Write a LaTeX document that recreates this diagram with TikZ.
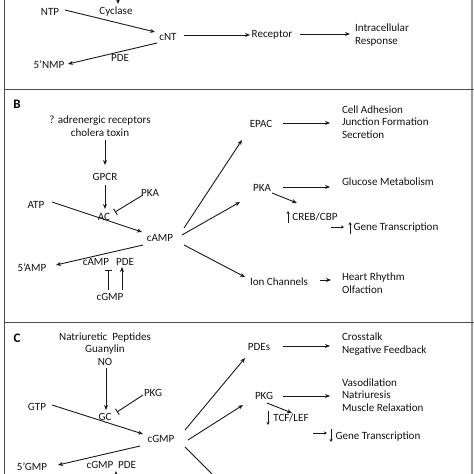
\documentclass[tikz,border=0pt]{standalone}
\usepackage{fontspec}
\setmainfont{Carlito}
\usetikzlibrary{arrows.meta}
\begin{document}
\begin{tikzpicture}[x=1bp,y=-1bp,
  lbl/.style={inner sep=0pt,outer sep=0pt,font=\fontsize{11.1}{12.6}\selectfont,text=black!92},
  lst/.style={lbl,anchor=west,align=left},
  panel/.style={font=\fontsize{13}{13}\selectfont\bfseries,inner sep=0pt,text=black},
  arr/.style={-{Stealth[length=5bp,width=4bp]},line width=0.9bp,draw=black!90},
  sarr/.style={-{Stealth[length=3bp,width=3bp]},line width=0.7bp,draw=black!90},
  inh/.style={-{Bar[width=7bp]},line width=0.9bp,draw=black!90},
  frame/.style={line width=1bp,draw=black!70},
  rframe/.style={line width=1.2bp,draw=black!40}]
\useasboundingbox (0,0) rectangle (474,474);
\fill[white] (0,0) rectangle (474,474);
% frames
\draw[frame] (4,-5) -- (4,480);
\draw[rframe] (472,-5) -- (472,480);
\draw[frame] (4,90) -- (474,90);
\draw[frame] (4,322) -- (474,322);

% ---------------- Panel A
\node[lbl] (NTP) at (50,12) {NTP};
\node[lbl] (Cyc) at (116,12) {Cyclase};
\coordinate (topA) at (118,-6);
\node[lbl] (cNT) at (168,37) {cNT};
\node[lbl] (Rec) at (272,35) {Receptor};
\node[lst] (Intra) at (355,35) {Intracellular\\Response};
\node[lbl] (PDEa) at (120,58) {PDE};
\node[lbl] (NMP) at (49,65) {5’NMP};
\draw[arr] (topA) -- ([shift={(2,-8)}]Cyc.center);
\draw[arr] ([shift={(15,-2)}]NTP.center) -- ([shift={(-13,-5)}]cNT.center);
\draw[arr] ([shift={(16,-2)}]cNT.center) -- ([shift={(-22,0)}]Rec.center);
\draw[arr] ([shift={(28,-1)}]Rec.center) -- ([shift={(-5,-1)}]Intra.west);
\draw[arr] ([shift={(-11,6)}]cNT.center) -- ([shift={(19,-1)}]NMP.center);

% ---------------- Panel B
\node[panel] (B) at (17,104) {B};
\node[lbl,align=center] (adr) at (100,126) {? adrenergic receptors\\cholera toxin};
\node[lbl] (GPCR) at (105,177) {GPCR};
\node[lbl] (AC) at (104,217) {AC};
\node[lbl] (PKAi) at (150,193) {PKA};
\node[lbl] (ATP) at (36,205) {ATP};
\node[lbl] (cAMP) at (160,238) {cAMP};
\node[lbl] (AMP) at (32,268) {5’AMP};
\node[lbl] (cAMPw) at (96,262) {cAMP};
\node[lbl] (PDEb) at (125,262) {PDE};
\node[lbl] (cGMPb) at (110,297) {cGMP};
\node[lbl] (EPAC) at (261,124) {EPAC};
\node[lst] (Cell) at (342,122) {Cell Adhesion\\Junction Formation\\Secretion};
\node[lbl] (PKA) at (262,188) {PKA};
\node[lst] (Glu) at (342,182) {Glucose Metabolism};
\node[lbl] (CREB) at (315,217) {CREB/CBP};
\node[lbl] (GeneB) at (396,228) {Gene Transcription};
\node[lbl] (Ion) at (279,282) {Ion Channels};
\node[lst] (Heart) at (342,283) {Heart Rhythm\\Olfaction};

\draw[arr] ([shift={(5,14)}]adr.center) -- ([shift={(0,-12)}]GPCR.center);
\draw[arr] ([shift={(0,8)}]GPCR.center) -- ([shift={(1,-8)}]AC.center);
\draw[inh] ([shift={(-7,2)}]PKAi.center) -- ([shift={(11,-5)}]AC.center);
\draw[arr] ([shift={(16,-3)}]ATP.center) -- ([shift={(-18,-6)}]cAMP.center);
\draw[arr] ([shift={(-17,7)}]cAMP.center) -- ([shift={(24,-3)}]AMP.center);
\draw[inh] ([shift={(-2,-7)}]cGMPb.center) -- ([shift={(12,8)}]cAMPw.center);
\draw[arr] ([shift={(12,-7)}]cGMPb.center) -- ([shift={(-3,5)}]PDEb.center);
\draw[arr] ([shift={(24,-10)}]cAMP.center) -- ([shift={(-19,16)}]EPAC.center);
\draw[arr] ([shift={(22,-3)}]cAMP.center) -- ([shift={(-22,14)}]PKA.center);
\draw[arr] ([shift={(24,7)}]cAMP.center) -- ([shift={(-34,-5)}]Ion.center);
\draw[arr] ([shift={(22,-1)}]EPAC.center) -- ([shift={(-12,1)}]Cell.west);
\draw[arr] ([shift={(21,-1)}]PKA.center) -- ([shift={(-12,5)}]Glu.west);
\draw[arr] ([shift={(10,5)}]PKA.center) -- ([shift={(-18,-14)}]CREB.center);
\draw[sarr] ([shift={(-27,6)}]CREB.center) -- ([shift={(-27,-6)}]CREB.center);
\draw[sarr] ([shift={(16,10)}]CREB.center) -- ([shift={(-52,-1)}]GeneB.center);
\draw[sarr] ([shift={(-46,6)}]GeneB.center) -- ([shift={(-46,-6)}]GeneB.center);
\draw[arr] ([shift={(41,-2)}]Ion.center) -- ([shift={(-11,-3)}]Heart.west);

% ---------------- Panel C
\node[panel] (C) at (17,338) {C};
\node[lbl,align=center] (Nat) at (105,349) {Natriuretic\ \ Peptides\\Guanylin\\NO};
\node[lbl] (GC) at (105,417) {GC};
\node[lbl] (PKGi) at (153,393) {PKG};
\node[lbl] (GTP) at (37,407) {GTP};
\node[lbl] (cGMP) at (161,439) {cGMP};
\node[lbl] (GMP) at (32,467) {5’GMP};
\node[lbl] (cGMPw) at (100,465) {cGMP};
\node[lbl] (PDEc) at (127,465) {PDE};
\coordinate (botC) at (116,490);
\coordinate (botD) at (228,490);
\node[lbl] (PDEs) at (259,347) {PDEs};
\node[lst] (Cross) at (342,344) {Crosstalk\\Negative Feedback};
\node[lbl] (PKG) at (264,396) {PKG};
\node[lst] (Vaso) at (342,395) {Vasodilation\\Natriuresis\\Muscle Relaxation};
\node[lbl] (TCF) at (291,418) {TCF/LEF};
\node[lbl] (GeneC) at (378,437) {Gene Transcription};

\draw[arr] ([shift={(1,19)}]Nat.center) -- ([shift={(1,-7)}]GC.center);
\draw[inh] ([shift={(-10,2)}]PKGi.center) -- ([shift={(12,-5)}]GC.center);
\draw[arr] ([shift={(15,-2)}]GTP.center) -- ([shift={(-18,-5)}]cGMP.center);
\draw[arr] ([shift={(-21,7)}]cGMP.center) -- ([shift={(26,-2)}]GMP.center);
\draw[arr] (botC) -- ([shift={(-11,6)}]PDEc.center);
\draw[arr] ([shift={(24,-9)}]cGMP.center) -- ([shift={(-14,11)}]PDEs.center);
\draw[arr] ([shift={(27,1)}]cGMP.center) -- ([shift={(-21,9)}]PKG.center);
\draw[arr] ([shift={(24,8)}]cGMP.center) -- (botD);
\draw[arr] ([shift={(24,-1)}]PDEs.center) -- ([shift={(-12,2)}]Cross.west);
\draw[arr] ([shift={(19,0)}]PKG.center) -- ([shift={(-12,1)}]Vaso.west);
\draw[arr] ([shift={(3,7)}]PKG.center) -- ([shift={(1,-5)}]TCF.center);
\draw[sarr] ([shift={(-23,-7)}]TCF.center) -- ([shift={(-23,7)}]TCF.center);
\draw[sarr] ([shift={(22,15)}]TCF.center) -- ([shift={(-51,-4)}]GeneC.center);
\draw[sarr] ([shift={(-47,-8)}]GeneC.center) -- ([shift={(-47,5)}]GeneC.center);
\end{tikzpicture}
\end{document}
